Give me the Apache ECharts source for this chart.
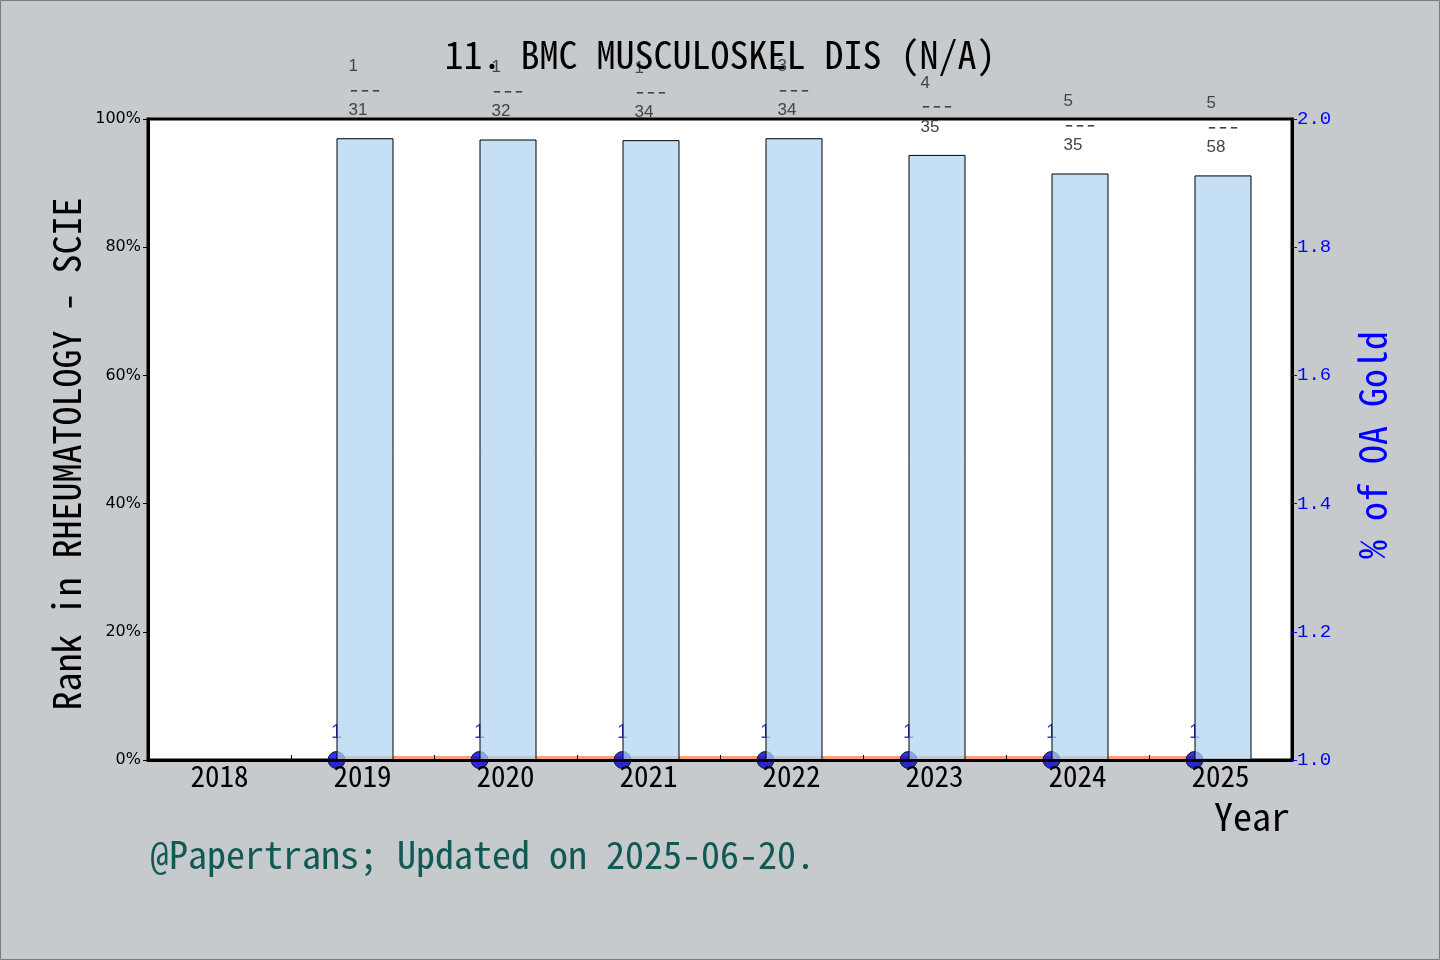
<!DOCTYPE html>
<html>
<head>
<meta charset="utf-8">
<script src="https://cdn.jsdelivr.net/npm/echarts@6/dist/echarts.min.js"></script>
<style>
html,body{margin:0;padding:0;background:#c6cacd;}
#main{width:1440px;height:960px;}
</style>
</head>
<body>
<div id="main"></div>
<script>
// ---- data ----
const years = ['2018', '2019', '2020', '2021', '2022', '2023', '2024', '2025'];
const barValues = [null, 0.970, 0.968, 0.967, 0.970, 0.944, 0.915, 0.912];
const rankNum = [null, 1, 1, 1, 3, 4, 5, 5];
const rankTotal = [null, 31, 32, 34, 34, 35, 35, 58];
const oaGold = [null, 1, 1, 1, 1, 1, 1, 1];
const rankLine = [null, 0.004, 0.004, 0.004, 0.004, 0.004, 0.004, 0.004];
const leftTicks = [0, 0.2, 0.4, 0.6, 0.8, 1.0];
const rightTicks = [1.0, 1.2, 1.4, 1.6, 1.8, 2.0];

const MONO = "'Noto Sans Mono CJK JP', 'Noto Sans Mono CJK SC', 'DejaVu Sans Mono', monospace";
const chart = echarts.init(document.getElementById('main'));

const gL = 148, gR = 148, gT = 119, gB = 200;
const barShift = 2.5, dotShift = -26;

const option = {
  backgroundColor: '#c6cacd',
  animation: false,
  title: {
    text: '11. BMC MUSCULOSKEL DIS (N/A)',
    left: 'center', top: 31,
    textStyle: { fontFamily: MONO, fontSize: 38, fontWeight: 'normal', color: '#000' }
  },
  grid: [
    { left: gL, right: gR, top: gT, bottom: gB, show: true, backgroundColor: '#ffffff', borderColor: '#000', borderWidth: 3, z: 0 },
    { left: gL + barShift, right: gR - barShift, top: gT, bottom: gB },
    { left: gL + dotShift, right: gR - dotShift, top: gT, bottom: gB }
  ],
  xAxis: [
    {
      gridIndex: 0, type: 'category', data: years, z: 10,
      axisLine: { lineStyle: { color: '#000', width: 3 } },
      axisTick: { show: true, inside: true, length: 5, lineStyle: { color: '#000', width: 1 } },
      axisLabel: { color: '#000', fontFamily: MONO, fontSize: 29, margin: 1 },
      splitLine: { show: false }
    },
    { gridIndex: 1, type: 'category', data: years, show: false },
    { gridIndex: 2, type: 'category', data: years, show: false }
  ],
  yAxis: [
    {
      gridIndex: 0, type: 'value', min: 0, max: 1, interval: 0.2, z: 10,
      axisLine: { show: true, lineStyle: { color: '#000', width: 3 } },
      axisTick: { show: true, length: 5, lineStyle: { color: '#000', width: 1 } },
      axisLabel: { color: '#000', fontFamily: "'DejaVu Sans', sans-serif", fontSize: 16, margin: 7,
        formatter: v => Math.round(v * 100) + '%' },
      splitLine: { show: false }
    },
    {
      gridIndex: 0, type: 'value', position: 'right', min: 1, max: 2, interval: 0.2, z: 10,
      axisLine: { show: true, lineStyle: { color: '#000', width: 3 } },
      axisTick: { show: true, length: 5, lineStyle: { color: '#0000ff', width: 1 } },
      axisLabel: { color: '#0000ff', fontFamily: "'Liberation Mono', monospace", fontSize: 19, margin: 5,
        formatter: v => v.toFixed(1) },
      splitLine: { show: false }
    },
    { gridIndex: 1, type: 'value', min: 0, max: 1, show: false },
    { gridIndex: 2, type: 'value', min: 0, max: 1, show: false },
    { gridIndex: 2, type: 'value', min: 1, max: 2, show: false }
  ],
  series: [
    {
      type: 'line', xAxisIndex: 2, yAxisIndex: 3, data: rankLine, z: 1,
      symbol: 'none', lineStyle: { color: '#f6a07c', width: 3 }
    },
    {
      type: 'scatter', xAxisIndex: 2, yAxisIndex: 4, data: oaGold, z: 2,
      symbolSize: 17,
      itemStyle: { color: '#0000cd', borderColor: '#000', borderWidth: 1 },
      label: { show: true, position: 'top', distance: 9, color: '#0000ee', fontSize: 20,
        fontFamily: "'Liberation Sans', sans-serif", formatter: p => String(p.value) }
    },
    {
      type: 'bar', xAxisIndex: 1, yAxisIndex: 2, data: barValues, z: 3,
      barWidth: 57,
      itemStyle: { color: 'rgba(175,212,241,0.725)', borderColor: '#000', borderWidth: 1 },
      label: {
        show: true, position: 'top', distance: 17,
        formatter: p => '{a|' + rankNum[p.dataIndex] + '}\n{d|---}\n{a|' + rankTotal[p.dataIndex] + '}',
        rich: {
          a: { fontFamily: "'Liberation Sans', Arial, sans-serif", fontSize: 17, color: '#444', lineHeight: 22, align: 'left' },
          d: { fontFamily: MONO, fontSize: 22, color: '#444', lineHeight: 22, align: 'left' }
        }
      }
    }
  ],
  graphic: [
    { type: 'rect', shape: { x: 0.5, y: 0.5, width: 1439, height: 959 }, style: { fill: 'none', stroke: '#7a7d80', lineWidth: 1 }, z: 100 },
    { type: 'text', x: 67, y: 454, rotation: Math.PI / 2,
      style: { text: 'Rank in RHEUMATOLOGY - SCIE', fontFamily: MONO, fontSize: 38, fill: '#000', align: 'center', verticalAlign: 'middle' } },
    { type: 'text', x: 1373, y: 445, rotation: Math.PI / 2,
      style: { text: '% of OA Gold', fontFamily: MONO, fontSize: 38, fill: '#0000ff', align: 'center', verticalAlign: 'middle' } },
    { type: 'text', x: 1290, y: 817,
      style: { text: 'Year', fontFamily: MONO, fontSize: 38, fill: '#000', align: 'right', verticalAlign: 'middle' } },
    { type: 'text', x: 150, y: 855,
      style: { text: '@Papertrans; Updated on 2025-06-20.', fontFamily: MONO, fontSize: 38, fill: '#0f5a55', align: 'left', verticalAlign: 'middle' } }
  ]
};
chart.setOption(option);
</script>
</body>
</html>
